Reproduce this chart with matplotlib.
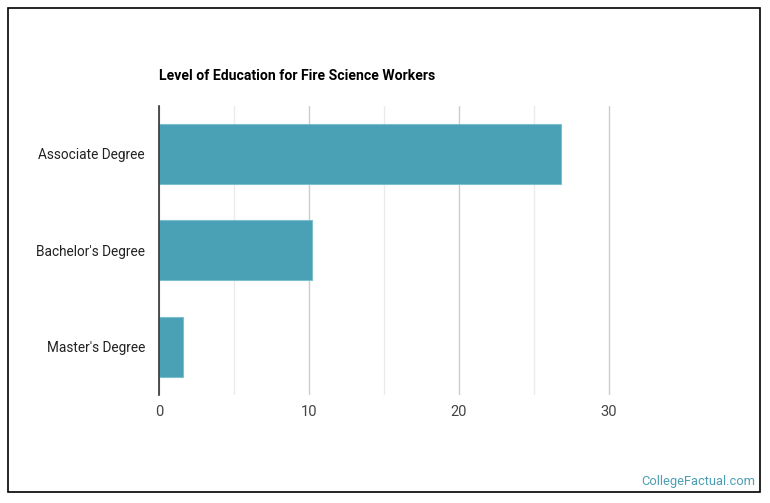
import matplotlib.pyplot as plt
from matplotlib.patches import Rectangle

# data
categories = ["Associate Degree", "Bachelor's Degree", "Master's Degree"]
values = [26.8, 10.2, 1.6]
ticks = [0, 10, 20, 30]
minor_ticks = [5, 15, 25]

W, H = 770, 503
fig = plt.figure(figsize=(W / 100, H / 100), dpi=100)
plt.rcParams['font.family'] = ['Roboto', 'DejaVu Sans']

# axes box in pixels: left 159, right ~669, top 105.7, bottom 395
ax = fig.add_axes([159 / W, 1 - 395 / H, (669 - 159) / W, (395 - 105.7) / H])

pos = list(range(len(categories)))
ax.barh(pos, values, height=0.62, color='#4aa0b5', edgecolor='#7cc0cf',
        linewidth=0.8, zorder=3)
ax.set_ylim(len(categories) - 0.5, -0.5)
ax.set_xlim(0, 34)
ax.set_yticks(pos)
ax.set_yticklabels(categories, fontsize=9.8, color='#222222')
ax.set_xticks(ticks)
ax.set_xticklabels([str(t) for t in ticks], fontsize=10.5, color='#444444')
ax.set_xticks(minor_ticks, minor=True)
ax.tick_params(axis='both', which='both', length=0)
ax.tick_params(axis='y', pad=10)
ax.tick_params(axis='x', pad=7)

ax.grid(axis='x', which='major', color='#cccccc', linewidth=1, zorder=0)
ax.grid(axis='x', which='minor', color='#ebebeb', linewidth=1, zorder=0)
for s in ['top', 'right', 'bottom']:
    ax.spines[s].set_visible(False)
ax.spines['left'].set_color('#333333')
ax.spines['left'].set_linewidth(1.2)
ax.spines['left'].set_zorder(4)

fig.text(159 / W, 1 - 76 / H, "Level of Education for Fire Science Workers",
         fontsize=10.1, fontweight='bold', color='#000000', va='center', ha='left')
fig.text(755 / W, 1 - 481 / H, "CollegeFactual.com", fontsize=9.3,
         color='#4a9fb5', va='center', ha='right')

# outer frame
fig.patches.append(Rectangle((8 / W, 1 - 492 / H), (760 - 8) / W, (492 - 8) / H,
                             transform=fig.transFigure, fill=False,
                             edgecolor='black', linewidth=1.2))

fig.savefig('out.png', dpi=100)
